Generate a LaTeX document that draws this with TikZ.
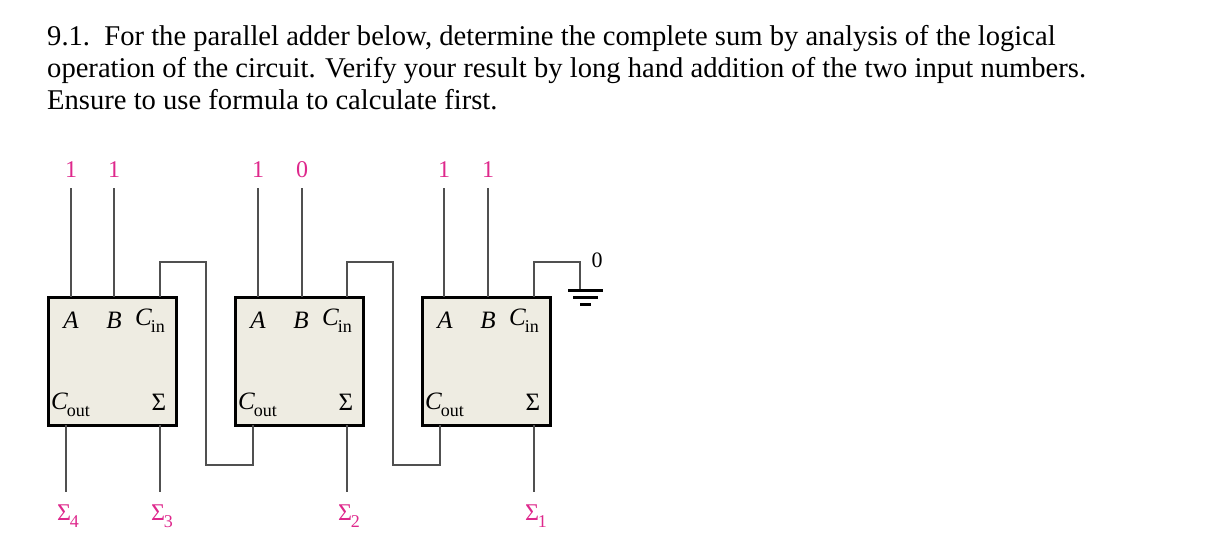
\documentclass[tikz,border=0pt]{standalone}
\usepackage{fontspec}
\setmainfont{Liberation Serif}
\definecolor{boxfill}{RGB}{238,236,226}
\definecolor{mag}{RGB}{222,40,140}
\definecolor{wire}{RGB}{80,80,80}
\newcommand{\sbs}[2]{#1\kern-0.05em\raisebox{-0.28em}{\fontsize{18}{19}\selectfont #2}}
\tikzset{
  fa/.style={draw=black,line width=3pt,fill=boxfill,minimum width=128pt,minimum height=128pt,inner sep=0pt},
  wr/.style={draw=wire,line width=1.6pt},
  pin/.style={font=\fontsize{25}{26}\selectfont,inner sep=0pt},
  val/.style={font=\fontsize{24}{26}\selectfont,text=mag,inner sep=0pt},
}
\begin{document}
\begin{tikzpicture}[x=1pt,y=-1pt]
\useasboundingbox (0,0) rectangle (1212,554);
\node[anchor=north west,align=left,inner sep=0pt,font=\fontsize{28.6}{32}\selectfont] (title) at (47,25)
{9.1.\ \ For the parallel adder below, determine the complete sum by analysis of the logical\\
operation of the circuit. Verify your result by long hand addition of the two input numbers.\\
Ensure to use formula to calculate first.};
% boxes
\node[fa] (f3) at (112,361) {};
\node[fa] (f2) at (299,361) {};
\node[fa] (f1) at (486,361) {};
% pin labels
\foreach \b/\l in {f3/48,f2/235,f1/422}{
  \node[pin] at (\l+23,320) {\textit{A}};
  \node[pin] at (\l+66,320) {\textit{B}};
  \node[pin,anchor=west] at (\l+87,321) {\sbs{\textit{C}}{in}};
  \node[pin,anchor=west] at (\l+3,405) {\sbs{\textit{C}}{out}};
  \node[pin] at (\l+111,402) {Σ};
}
% input values
\node[val] (a3) at (71,170) {1};
\node[val] (b3) at (114,170) {1};
\node[val] (a2) at (258,170) {1};
\node[val] (b2) at (302,170) {0};
\node[val] (a1) at (444,170) {1};
\node[val] (b1) at (488,170) {1};
\foreach \n/\x in {a3/71,b3/114,a2/258,b2/302,a1/444,b1/488}
  \draw[wr] (\x,188) -- (\x,297);
% carry wires
\draw[wr] (160,297) -- (160,262) -- (206,262) -- (206,465) -- (253,465) -- (253,425);
\draw[wr] (347,297) -- (347,262) -- (393,262) -- (393,465) -- (440,465) -- (440,425);
\draw[wr] (534,297) -- (534,262) -- (580,262) -- (580,290);
\coordinate (gnd) at (580,290);
\draw[line width=3pt] (568,290) -- (603,290);
\draw[line width=3pt] (573,297) -- (598,297);
\draw[line width=3pt] (580,304) -- (591,304);
\node[inner sep=0pt,font=\fontsize{22}{24}\selectfont] (zero) at (597,260) {0};
% outputs
\draw[wr] (66,425) -- (66,492);
\draw[wr] (160,425) -- (160,492);
\draw[wr] (347,425) -- (347,492);
\draw[wr] (534,425) -- (534,492);
\node[val] (s4) at (68,516) {\sbs{Σ}{4}};
\node[val] (s3) at (162,516) {\sbs{Σ}{3}};
\node[val] (s2) at (349,516) {\sbs{Σ}{2}};
\node[val] (s1) at (536,516) {\sbs{Σ}{1}};
\end{tikzpicture}
\end{document}
